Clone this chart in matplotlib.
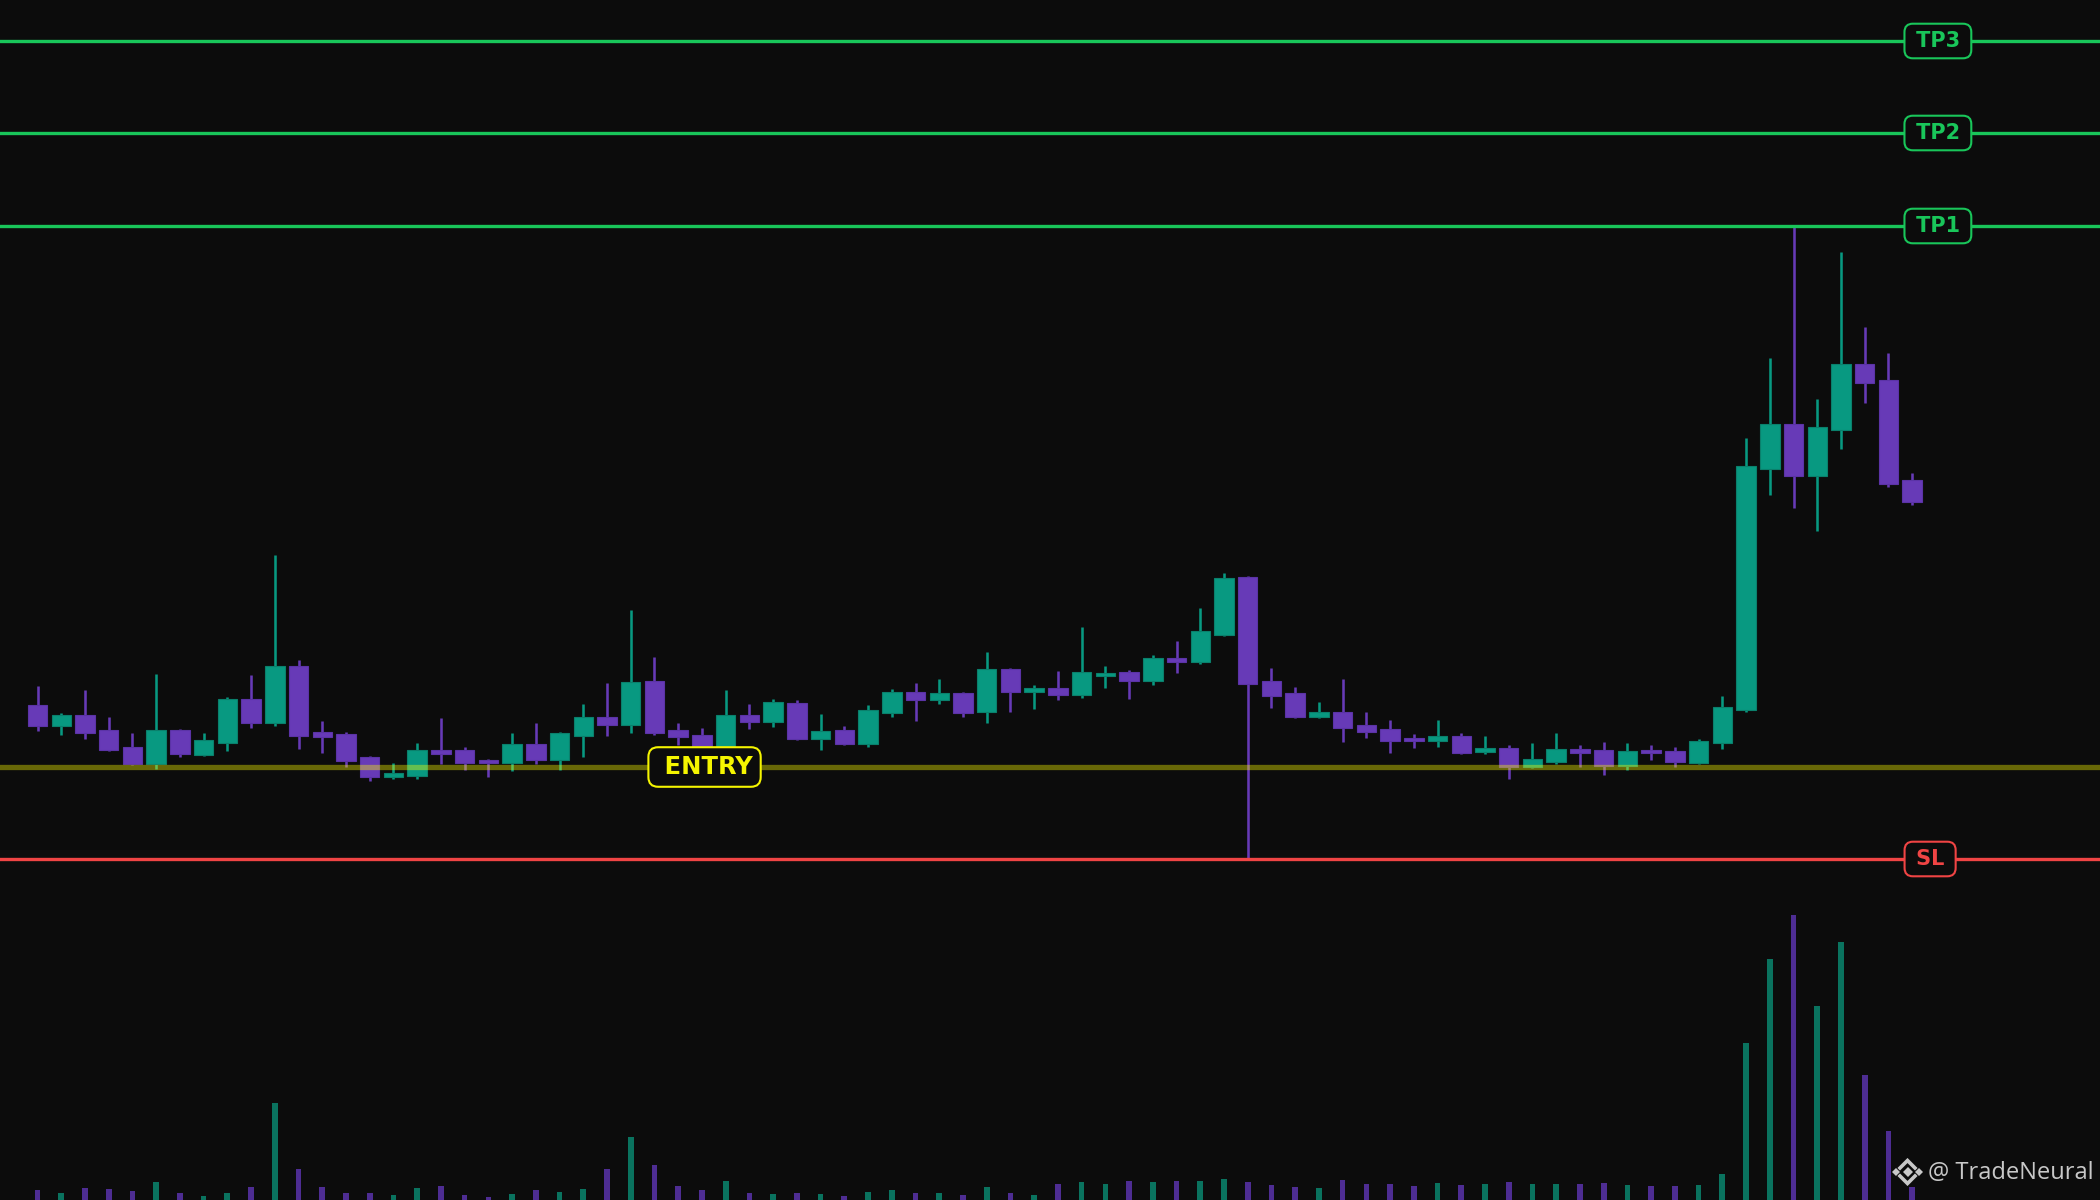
import numpy as np
import matplotlib.pyplot as plt
from matplotlib.transforms import blended_transform_factory

# candle data (price), one entry per bar
opens = [0.2295, 0.2274, 0.2285, 0.2270, 0.2253, 0.2236, 0.2270, 0.2245, 0.2257, 0.2301,
         0.2277, 0.2334, 0.2268, 0.2266, 0.2243, 0.2223, 0.2224, 0.2250, 0.2250, 0.2240,
         0.2237, 0.2256, 0.2240, 0.2264, 0.2283, 0.2275, 0.2319, 0.2270, 0.2265, 0.2249,
         0.2285, 0.2278, 0.2297, 0.2261, 0.2270, 0.2256, 0.2287, 0.2308, 0.2300, 0.2307,
         0.2288, 0.2331, 0.2308, 0.2312, 0.2305, 0.2324, 0.2328, 0.2319, 0.2342, 0.2338,
         0.2365, 0.2423, 0.2319, 0.2307, 0.2283, 0.2288, 0.2275, 0.2271, 0.2262, 0.2259,
         0.2264, 0.2248, 0.2252, 0.2233, 0.2238, 0.2251, 0.2250, 0.2234, 0.2250, 0.2249,
         0.2237, 0.2257, 0.2290, 0.2531, 0.2576, 0.2524, 0.2570, 0.2636, 0.2620, 0.2520]
highs = [0.2314, 0.2287, 0.2310, 0.2283, 0.2267, 0.2326, 0.2271, 0.2267, 0.2303, 0.2325,
         0.2445, 0.2340, 0.2279, 0.2268, 0.2244, 0.2237, 0.2257, 0.2282, 0.2253, 0.2241,
         0.2267, 0.2277, 0.2268, 0.2296, 0.2317, 0.2390, 0.2343, 0.2277, 0.2272, 0.2310,
         0.2296, 0.2301, 0.2300, 0.2286, 0.2274, 0.2295, 0.2311, 0.2317, 0.2321, 0.2308,
         0.2348, 0.2332, 0.2315, 0.2329, 0.2373, 0.2334, 0.2330, 0.2345, 0.2359, 0.2392,
         0.2427, 0.2424, 0.2332, 0.2313, 0.2298, 0.2321, 0.2288, 0.2280, 0.2266, 0.2280,
         0.2267, 0.2264, 0.2255, 0.2257, 0.2267, 0.2255, 0.2258, 0.2257, 0.2255, 0.2253,
         0.2261, 0.2304, 0.2562, 0.2642, 0.2774, 0.2601, 0.2748, 0.2673, 0.2647, 0.2527]
lows = [0.2269, 0.2265, 0.2261, 0.2249, 0.2235, 0.2231, 0.2243, 0.2244, 0.2249, 0.2272,
        0.2274, 0.2251, 0.2247, 0.2233, 0.2219, 0.2221, 0.2221, 0.2236, 0.2230, 0.2223,
        0.2229, 0.2236, 0.2230, 0.2243, 0.2264, 0.2267, 0.2265, 0.2255, 0.2248, 0.2244,
        0.2271, 0.2273, 0.2260, 0.2250, 0.2255, 0.2253, 0.2283, 0.2279, 0.2296, 0.2283,
        0.2277, 0.2288, 0.2291, 0.2300, 0.2302, 0.2312, 0.2301, 0.2315, 0.2327, 0.2336,
        0.2364, 0.2142, 0.2292, 0.2282, 0.2282, 0.2258, 0.2262, 0.2247, 0.2252, 0.2253,
        0.2246, 0.2246, 0.2221, 0.2232, 0.2236, 0.2233, 0.2225, 0.2230, 0.2240, 0.2233,
        0.2236, 0.2251, 0.2288, 0.2505, 0.2492, 0.2469, 0.2551, 0.2597, 0.2513, 0.2495]
closes = [0.2274, 0.2285, 0.2267, 0.2250, 0.2236, 0.2270, 0.2246, 0.2260, 0.2301, 0.2277,
          0.2334, 0.2264, 0.2263, 0.2239, 0.2223, 0.2227, 0.2250, 0.2246, 0.2237, 0.2237,
          0.2256, 0.2240, 0.2267, 0.2283, 0.2275, 0.2318, 0.2267, 0.2263, 0.2252, 0.2285,
          0.2278, 0.2298, 0.2261, 0.2269, 0.2256, 0.2290, 0.2308, 0.2300, 0.2307, 0.2287,
          0.2331, 0.2308, 0.2312, 0.2305, 0.2328, 0.2327, 0.2319, 0.2342, 0.2338, 0.2369,
          0.2422, 0.2316, 0.2304, 0.2283, 0.2288, 0.2272, 0.2268, 0.2259, 0.2259, 0.2264,
          0.2247, 0.2252, 0.2233, 0.2241, 0.2251, 0.2247, 0.2234, 0.2249, 0.2247, 0.2238,
          0.2259, 0.2293, 0.2534, 0.2576, 0.2524, 0.2573, 0.2636, 0.2617, 0.2516, 0.2498]
volumes = [10, 7, 12, 11, 9, 18, 7, 4, 7, 13, 97, 31, 13, 7, 7, 5, 12, 14, 5, 3,
           6, 10, 8, 11, 31, 63, 35, 14, 10, 19, 7, 6, 7, 6, 4, 8, 10, 7, 7, 5,
           13, 7, 5, 16, 18, 16, 19, 18, 19, 19, 21, 18, 15, 13, 12, 20, 16, 16, 14, 17,
           15, 16, 18, 16, 16, 16, 17, 15, 14, 14, 15, 26, 157, 241, 285, 194, 258, 125, 69, 13]

tp_names = ['TP1', 'TP2', 'TP3']
tp_levels = [0.2774, 0.2867, 0.2959]
entry_price = 0.2233
sl_price = 0.2141

bg = '#0c0c0c'
up = '#089981'
down = '#673ab7'
up_edge = '#0a806c'
down_edge = '#5b33a6'
green = '#19c65a'
red = '#f04444'
yellow = '#ffff00'
wm = '#c8c8c8'

o = np.array(opens)
h = np.array(highs)
l = np.array(lows)
c = np.array(closes)
x = np.arange(len(o))
is_up = c >= o

fig = plt.figure(figsize=(21, 12), dpi=100, facecolor=bg)
vax = fig.add_axes([0, 0, 1, 1])
vax.set_facecolor(bg)
ax = fig.add_axes([0, 0, 1, 1], sharex=vax)
ax.patch.set_alpha(0)

# volume
vcols = np.where(is_up, '#0a735f', '#4e2d93')
vax.bar(x, volumes, width=0.24, color=vcols, linewidth=0)
vax.set_ylim(0, 1200)

# candles
cols = np.where(is_up, up, down)
ecols = np.where(is_up, up_edge, down_edge)
ax.vlines(x, l, h, colors=cols, linewidth=1.85, zorder=2)
body_low = np.minimum(o, c)
body_h = np.maximum(np.abs(c - o), 0.0003)
ax.bar(x, body_h, bottom=body_low, width=0.82, color=cols, edgecolor=ecols,
       linewidth=0.8, zorder=3)

# levels
for lv in tp_levels:
    ax.axhline(lv, color=green, linewidth=2.4, zorder=4)
ax.axhline(sl_price, color=red, linewidth=2.4, zorder=4)
ax.axhline(entry_price, color=yellow, alpha=0.38, linewidth=3.8, zorder=4)

tr = blended_transform_factory(ax.transAxes, ax.transData)
box = 'round,pad=0.35,rounding_size=0.4'
for name, lv in zip(tp_names, tp_levels):
    ax.text(0.9228, lv, '\u2009' + name + '\u2009', transform=tr, ha='center', va='center',
            fontsize=15, fontweight='bold', color=green, zorder=6,
            bbox=dict(boxstyle=box, fc=bg, ec=green, lw=1.5))
ax.text(0.9191, sl_price, '\u2009SL\u2009', transform=tr, ha='center', va='center',
        fontsize=15, fontweight='bold', color=red, zorder=6,
        bbox=dict(boxstyle=box, fc=bg, ec=red, lw=1.5))
ax.text(0.3355, entry_price, ' ENTRY', transform=tr, ha='center', va='center',
        fontsize=17.5, fontweight='bold', color='#f5f500', zorder=6,
        bbox=dict(boxstyle='round,pad=0.32,rounding_size=0.4', fc=bg, ec='#f5f500', lw=1.5))

# watermark
fig.text(0.918, 0.0225, '@ TradeNeural', fontsize=17, color=wm,
         family=['Open Sans', 'DejaVu Sans'], ha='left', va='center')


def px(xp, yp):
    return xp / 2100, 1 - yp / 1200


cx, cy = 1907.5, 1172
for sgn in (-1, 1):
    xs, ys = zip(px(cx - 7.5, cy + sgn * 4), px(cx, cy + sgn * 11.5), px(cx + 7.5, cy + sgn * 4))
    ax.plot(xs, ys, color=wm, linewidth=2.6, solid_joinstyle='miter',
            transform=fig.transFigure, zorder=7)
    sx, sy = px(cx + sgn * 11.5, cy)
    ax.plot([sx], [sy], marker='D', ms=3.6, color=wm, mew=0, transform=fig.transFigure, zorder=7)
mx, my = px(cx, cy)
ax.plot([mx], [my], marker='D', ms=5.2, color=wm, mew=0, transform=fig.transFigure, zorder=7)

ax.set_xlim(-37.5 / 23.73, (2100 - 37.5) / 23.73)
ax.set_ylim(0.18, 0.30)
for a in (ax, vax):
    a.axis('off')

fig.savefig('out.png', dpi=100, facecolor=bg)
